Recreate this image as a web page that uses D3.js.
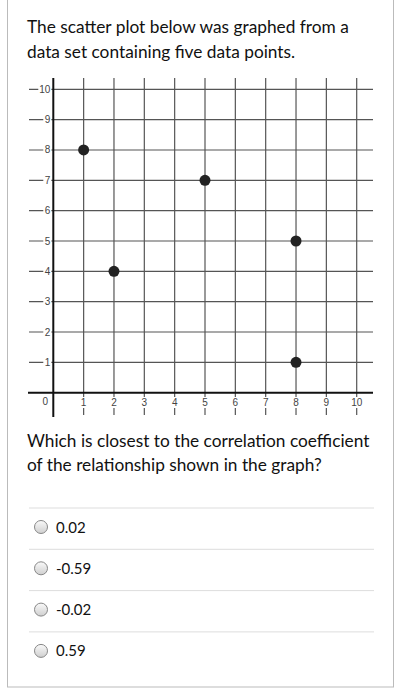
<!DOCTYPE html>
<html><head><meta charset="utf-8">
<script src="https://cdn.jsdelivr.net/npm/d3@7"></script>
<style>body{margin:0;background:#fff}</style></head>
<body><svg id="c" width="401" height="689"></svg>
<script>
const xs = [1, 2, 5, 8, 8];
const ys = [8, 4, 7, 5, 1];
const ticks = [1,2,3,4,5,6,7,8,9,10];
const titleLines = ["The scatter plot below was graphed from a", "data set containing five data points."];
const questionLines = ["Which is closest to the correlation coefficient", "of the relationship shown in the graph?"];
const options = ["0.02", "-0.59", "-0.02", "0.59"];

const svg = d3.select("#c");
const F = "Lato, 'Open Sans', sans-serif";
svg.append("rect").attr("x",7.5).attr("y",-2).attr("width",386).attr("height",689)
  .attr("fill","none").attr("stroke","#bbb");
svg.selectAll("text.t").data(titleLines).join("text").attr("x",27).attr("y",(d,i)=>33+i*25)
  .attr("font-family",F).attr("font-size",17.3).attr("fill","#111").text(d=>d);

const x = d3.scaleLinear().domain([0,10]).range([53.3,356.7]);
const y = d3.scaleLinear().domain([0,10]).range([392.7,89.3]);
const g = svg.append("g");
g.selectAll("line.v").data(ticks).join("line").attr("x1",d=>x(d)).attr("x2",d=>x(d))
  .attr("y1",78).attr("y2",415).attr("stroke","#555").attr("stroke-width",1.2);
g.selectAll("line.h").data(ticks).join("line").attr("y1",d=>y(d)).attr("y2",d=>y(d))
  .attr("x1",29).attr("x2",373).attr("stroke","#555").attr("stroke-width",1.2);
g.append("line").attr("x1",x(0)).attr("x2",x(0)).attr("y1",78).attr("y2",417).attr("stroke","#111").attr("stroke-width",2);
g.append("line").attr("x1",28).attr("x2",373).attr("y1",y(0)).attr("y2",y(0)).attr("stroke","#111").attr("stroke-width",2);
const lf = "Arial, 'Liberation Sans', sans-serif";
ticks.forEach(t=>{
  g.append("rect").attr("x",x(t)-5).attr("y",397).attr("width",10).attr("height",11).attr("fill","#fff");
  g.append("text").attr("x",x(t)).attr("y",406).attr("text-anchor","middle").attr("font-family",lf)
   .attr("font-size",10).attr("fill","#444").text(t);
  g.append("rect").attr("x",x(0)-(t==10?15:10)).attr("y",y(t)-5).attr("width",t==10?13:8).attr("height",10).attr("fill","#fff");
  g.append("text").attr("x",x(0)-3).attr("y",y(t)+3.5).attr("text-anchor","end").attr("font-family",lf)
   .attr("font-size",10).attr("fill","#444").text(t);
});
g.append("text").attr("x",x(0)-8).attr("y",405).attr("text-anchor","middle").attr("font-family",lf)
  .attr("font-size",10).attr("fill","#444").text("0");
g.selectAll("circle.p").data(xs.map((v,i)=>[v,ys[i]])).join("circle")
  .attr("cx",d=>x(d[0])).attr("cy",d=>y(d[1])).attr("r",5.5).attr("fill","#222");

svg.selectAll("text.q").data(questionLines).join("text").attr("x",27).attr("y",(d,i)=>447+i*24)
  .attr("font-family",F).attr("font-size",17.3).attr("fill","#111").text(d=>d);

const defs = svg.append("defs");
const gr = defs.append("linearGradient").attr("id","rg").attr("x1",0).attr("y1",0).attr("x2",0).attr("y2",1);
gr.append("stop").attr("offset",0).attr("stop-color","#fafafa");
gr.append("stop").attr("offset",1).attr("stop-color","#cfcfcf");
options.forEach((o,i)=>{
  const sy = 508 + i*41.3;
  svg.append("line").attr("x1",29).attr("x2",374).attr("y1",sy).attr("y2",sy).attr("stroke","#ddd").attr("stroke-width",1);
  svg.append("circle").attr("cx",41).attr("cy",sy+19).attr("r",6.5).attr("fill","url(#rg)").attr("stroke","#888");
  svg.append("text").attr("x",56).attr("y",sy+24.5).attr("font-family",F).attr("font-size",15).attr("fill","#111").text(o);
});
</script></body></html>
